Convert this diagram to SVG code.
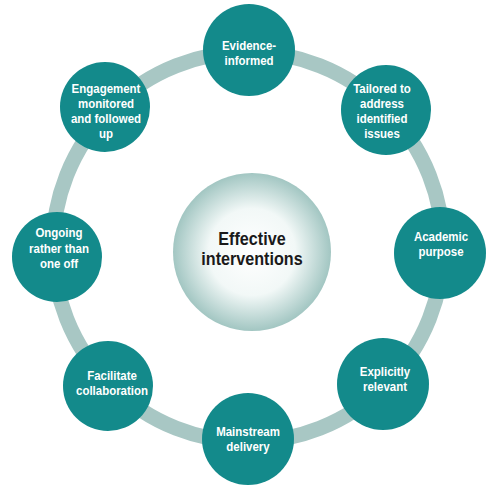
<svg xmlns="http://www.w3.org/2000/svg" width="496" height="499" viewBox="0 0 496 499">
<defs>
<radialGradient id="cg" cx="50%" cy="50%" r="50%">
<stop offset="0" stop-color="#ffffff"/>
<stop offset="0.55" stop-color="#f2f8f7"/>
<stop offset="1" stop-color="#a2c6c2"/>
</radialGradient>
</defs>
<style>
.node{fill:#138a8b;}
.lbl{font-family:"Liberation Sans",Arial,sans-serif;font-weight:bold;font-size:13.5px;fill:#ffffff;text-anchor:middle;}
.ctr{font-family:"Liberation Sans",Arial,sans-serif;font-weight:bold;font-size:19px;fill:#1a1a1a;text-anchor:middle;}
.ring{fill:none;stroke:#a8c7c4;stroke-width:15;}
</style>
<rect width="496" height="499" fill="#ffffff"/>
<g id="connectors">
<circle class="ring" cx="248" cy="247" r="195"/>
</g>
<g id="center">
<circle cx="252" cy="252" r="79" fill="url(#cg)"/>
<g transform="translate(252 0) scale(0.85 1)">
<text class="ctr" x="0" y="245">Effective</text>
<text class="ctr" x="0" y="265.5">interventions</text>
</g>
</g>
<g id="n-evidence">
<circle class="node" cx="249" cy="50" r="46"/>
<g transform="translate(249 0) scale(0.85 1)">
<text class="lbl" x="0" y="50">Evidence-</text>
<text class="lbl" x="0" y="65.5">informed</text>
</g>
</g>
<g id="n-tailored">
<circle class="node" cx="386" cy="110" r="45"/>
<g transform="translate(382 0) scale(0.85 1)">
<text class="lbl" x="0" y="93">Tailored to</text>
<text class="lbl" x="0" y="108">address</text>
<text class="lbl" x="0" y="123">identified</text>
<text class="lbl" x="0" y="138">issues</text>
</g>
</g>
<g id="n-academic">
<circle class="node" cx="440" cy="253" r="46"/>
<g transform="translate(441 0) scale(0.85 1)">
<text class="lbl" x="0" y="241">Academic</text>
<text class="lbl" x="0" y="256.5">purpose</text>
</g>
</g>
<g id="n-explicit">
<circle class="node" cx="383" cy="384" r="46"/>
<g transform="translate(385 0) scale(0.85 1)">
<text class="lbl" x="0" y="376">Explicitly</text>
<text class="lbl" x="0" y="391.5">relevant</text>
</g>
</g>
<g id="n-mainstream">
<circle class="node" cx="248" cy="439" r="46"/>
<g transform="translate(248 0) scale(0.85 1)">
<text class="lbl" x="0" y="436.5">Mainstream</text>
<text class="lbl" x="0" y="451.5">delivery</text>
</g>
</g>
<g id="n-facilitate">
<circle class="node" cx="108" cy="386" r="45"/>
<g transform="translate(112 0) scale(0.85 1)">
<text class="lbl" x="0" y="380">Facilitate</text>
<text class="lbl" x="0" y="395">collaboration</text>
</g>
</g>
<g id="n-ongoing">
<circle class="node" cx="57" cy="257" r="45"/>
<g transform="translate(59 0) scale(0.85 1)">
<text class="lbl" x="0" y="237.5">Ongoing</text>
<text class="lbl" x="0" y="253">rather than</text>
<text class="lbl" x="0" y="268">one off</text>
</g>
</g>
<g id="n-engagement">
<circle class="node" cx="105" cy="107" r="45"/>
<g transform="translate(106 0) scale(0.85 1)">
<text class="lbl" x="0" y="93">Engagement</text>
<text class="lbl" x="0" y="108">monitored</text>
<text class="lbl" x="0" y="123">and followed</text>
<text class="lbl" x="0" y="138">up</text>
</g>
</g>
</svg>
